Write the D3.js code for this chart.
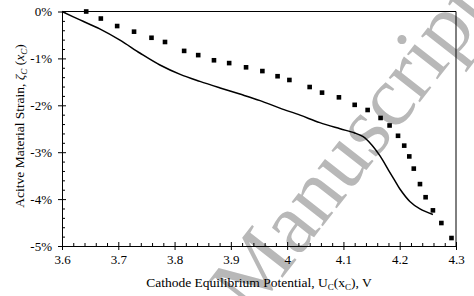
<!DOCTYPE html>
<html>
<head>
<meta charset="utf-8">
<script src="https://cdn.jsdelivr.net/npm/d3@7"></script>
<style>
  body { margin: 0; background: #fff; }
  svg text { font-family: "Liberation Serif", "Times New Roman", serif; }
</style>
</head>
<body>
<div id="chart"></div>
<script>
// Datos

// Medidas (cuadrados)
const measV = [3.643, 3.669, 3.698, 3.728, 3.759, 3.783, 3.817, 3.842, 3.870, 3.897,
  3.927, 3.956, 3.983, 4.004, 4.040, 4.062, 4.092, 4.120, 4.143, 4.166,
  4.182, 4.197, 4.208, 4.217, 4.225, 4.236, 4.246, 4.259, 4.274, 4.292];
const measStrain = [0.00, -0.15, -0.31, -0.43, -0.56, -0.65, -0.84, -0.93, -1.04, -1.10,
  -1.19, -1.27, -1.38, -1.46, -1.61, -1.73, -1.83, -1.99, -2.10, -2.27,
  -2.43, -2.65, -2.86, -3.09, -3.35, -3.68, -3.96, -4.24, -4.51, -4.83];

// Modelo (linea continua)
const modelV = [3.600, 3.632, 3.667, 3.703, 3.739, 3.774, 3.810, 3.845, 3.881, 3.916,
  3.952, 3.987, 4.023, 4.058, 4.094, 4.120, 4.135, 4.150, 4.165, 4.180,
  4.190, 4.200, 4.218, 4.236, 4.259];
const modelStrain = [0.00, -0.18, -0.37, -0.61, -0.89, -1.14, -1.34, -1.49, -1.63, -1.76,
  -1.90, -2.06, -2.21, -2.37, -2.50, -2.59, -2.67, -2.84, -3.08, -3.38,
  -3.58, -3.78, -4.05, -4.21, -4.33];

// Ticks
const xTicks = [3.6, 3.7, 3.8, 3.9, 4, 4.1, 4.2, 4.3];
const yTicks = [0, -1, -2, -3, -4, -5];

// Ctes de visualizacion
const WIDTH = 474;
const HEIGHT = 296;
const margin = { top: 11.5, right: 18, bottom: 50, left: 62 };
const width = WIDTH - margin.left - margin.right;
const height = HEIGHT - margin.top - margin.bottom;

const svg = d3.select("#chart")
  .append("svg")
  .attr("width", WIDTH)
  .attr("height", HEIGHT);

// Marca de agua
svg.append("text")
  .attr("transform", "translate(251, 318) rotate(-52)")
  .attr("font-size", 86)
  .attr("fill", "#b8b8b8")
  .text("Manuscript");

const graph = svg.append("g")
  .attr("transform", `translate(${margin.left}, ${margin.top})`);

const x = d3.scaleLinear().domain([3.6, 4.3]).range([0, width]);
const y = d3.scaleLinear().domain([-5, 0]).range([height, 0]);

// Marco superior y derecho
graph.append("path")
  .attr("d", `M0,0H${width}V${height}`)
  .attr("fill", "none")
  .attr("stroke", "#000")
  .attr("stroke-width", 1);

// Eje X
const xMinor = d3.range(3.6, 4.3001, 0.02).filter(v => Math.abs(v * 10 - Math.round(v * 10)) > 1e-6);
graph.append("g")
  .attr("transform", `translate(0, ${height})`)
  .call(d3.axisBottom(x).tickValues(xMinor).tickSize(-3).tickFormat(""))
  .call(g => g.select(".domain").remove());
const xaxis = graph.append("g")
  .attr("transform", `translate(0, ${height})`)
  .call(d3.axisBottom(x).tickValues(xTicks).tickSize(4).tickSizeOuter(0).tickPadding(5).tickFormat(d3.format("")));
xaxis.selectAll(".tick line").attr("y1", -4);
xaxis.selectAll("text").attr("font-size", 13).attr("fill", "#000");

// Eje Y
const yMinor = d3.range(0, -5.0001, -0.2).filter(v => Math.abs(v - Math.round(v)) > 1e-6);
graph.append("g")
  .call(d3.axisLeft(y).tickValues(yMinor).tickSize(-3).tickFormat(""))
  .call(g => g.select(".domain").remove());
const yaxis = graph.append("g")
  .call(d3.axisLeft(y).tickValues(yTicks).tickSize(4).tickSizeOuter(0).tickPadding(6).tickFormat(d => d + "%"));
yaxis.selectAll(".tick line").attr("x1", 4);
yaxis.selectAll("text").attr("font-size", 13).attr("fill", "#000");

// Linea del modelo
const lineData = modelV.map((v, i) => ({ v: v, s: modelStrain[i] }));
graph.append("path")
  .datum(lineData)
  .attr("fill", "none")
  .attr("stroke", "#000")
  .attr("stroke-width", 1.5)
  .attr("d", d3.line().x(d => x(d.v)).y(d => y(d.s)).curve(d3.curveCatmullRom.alpha(0.5)));

// Cuadrados de las medidas
const pts = measV.map((v, i) => ({ v: v, s: measStrain[i] }));
graph.selectAll("rect.pt")
  .data(pts)
  .join("rect")
  .attr("class", "pt")
  .attr("x", d => x(d.v) - 2.3)
  .attr("y", d => y(d.s) - 2.3)
  .attr("width", 4.6)
  .attr("height", 4.6)
  .attr("fill", "#000");

// Titulo eje X
const xl = svg.append("text")
  .attr("x", margin.left + width / 2)
  .attr("y", 287)
  .attr("text-anchor", "middle")
  .attr("font-size", 13.5)
  .attr("fill", "#000");
xl.append("tspan").text("Cathode Equilibrium Potential, U");
xl.append("tspan").attr("font-size", 9).attr("dy", 3).text("C");
xl.append("tspan").attr("dy", -3).text("(x");
xl.append("tspan").attr("font-size", 9).attr("dy", 3).text("C");
xl.append("tspan").attr("dy", -3).text("), V");

// Titulo eje Y
const yl = svg.append("text")
  .attr("transform", "translate(24, 126) rotate(-90)")
  .attr("text-anchor", "middle")
  .attr("font-size", 13.5)
  .attr("fill", "#000");
yl.append("tspan").text("Acitve Material Strain, ");
yl.append("tspan").attr("font-style", "italic").text("ζ");
yl.append("tspan").attr("font-style", "italic").attr("font-size", 9).attr("dy", 3).text("C");
yl.append("tspan").attr("dy", -3).text(" (");
yl.append("tspan").attr("font-style", "italic").text("x");
yl.append("tspan").attr("font-style", "italic").attr("font-size", 9).attr("dy", 3).text("C");
yl.append("tspan").attr("dy", -3).text(")");
</script>
</body>
</html>
